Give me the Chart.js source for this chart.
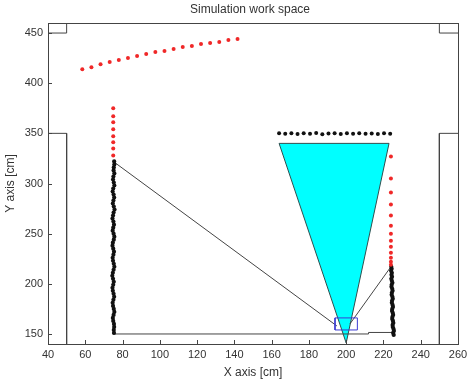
<!DOCTYPE html>
<html>
<head>
<meta charset="utf-8">
<script src="https://cdn.jsdelivr.net/npm/chart.js@4.4.1/dist/chart.umd.min.js"></script>
<style>
  body { margin: 0; background: #fff; }
  #wrap { width: 474px; height: 382px; }
</style>
</head>
<body>
<div id="wrap"><canvas id="chart" width="474" height="382"></canvas></div>
<script>
// axis ticks
const xTicks = [40, 60, 80, 100, 120, 140, 160, 180, 200, 220, 240, 260];
const yTicks = [150, 200, 250, 300, 350, 400, 450];

// room walls (polylines)
const wallLeftX = [40, 50, 50];
const wallLeftY = [350, 350, 140];
const wallRightX = [260, 250, 250];
const wallRightY = [350, 350, 140];
const cornerLeftX = [40, 50, 50];
const cornerLeftY = [450, 450, 460];
const cornerRightX = [260, 250, 250];
const cornerRightY = [450, 450, 460];

// camera field of view (cyan)
const fovX = [164, 223, 200, 164];
const fovY = [340, 340, 141, 340];

// camera box (blue)
const camX = [194, 206, 206, 194, 194];
const camY = [154, 154, 166, 166, 154];

// thin lines
const rayLeftX = [75, 195];
const rayLeftY = [322, 158];
const rayRightX = [224, 202];
const rayRightY = [217, 160];
const floorX = [75, 212, 212, 225];
const floorY = [150, 150, 151.5, 151.5];

// red predicted dots
const redArcX = [58.4, 63.3, 68.2, 73.1, 78.0, 82.9, 87.8, 92.7, 97.6, 102.5, 107.4, 112.3, 117.2, 122.1, 127.0, 131.9, 136.8, 141.7];
const redArcY = [414, 416, 419, 421, 423, 425, 427, 429, 431, 432, 434, 436, 437, 439, 440, 441, 443, 444];
const redLeftX = [75, 75, 75, 75, 75, 75, 75, 75];
const redLeftY = [375, 367, 361, 354, 347, 341, 335, 328];
const redRightX = [224, 224, 224, 224, 224, 224, 224, 224, 224, 224, 224, 224, 224];
const redRightY = [327, 305, 291, 279, 268, 258, 250, 243, 237, 231, 226, 222, 219];

// black measured dots
const topDotsX = [164.0, 167.3, 170.6, 173.9, 177.2, 180.6, 183.9, 187.2, 190.5, 193.8, 197.1, 200.4, 203.7, 207.0, 210.4, 213.7, 217.0, 220.3, 223.6];
const topDotsY = [350, 349.5, 350.2, 349.3, 350, 349.6, 350.3, 349.2, 349.8, 350.1, 349.4, 350, 349.7, 350.2, 349.5, 349.9, 349.3, 350, 349.6];
const leftTrackY = [322, 319, 316, 313, 310, 307, 304, 301, 298, 295, 292, 289, 286, 283, 280, 277, 274, 271, 268, 265,
  262, 259, 256, 253, 250, 247, 244, 241, 238, 235, 232, 229, 226, 223, 220, 217, 214, 211, 208, 205,
  202, 199, 196, 193, 190, 187, 184, 181, 178, 175, 172, 169, 166, 163, 160, 157, 154, 151];
const leftTrackX = [75.5, 75.6, 75.3, 75.2, 75.6, 75.1, 74.9, 75.3, 75.6, 75.0, 74.7, 75.2, 75.5, 75.1, 74.8, 75.3, 75.7, 75.2, 74.9, 74.6,
  75.1, 75.4, 75.0, 74.7, 75.2, 75.6, 75.3, 74.8, 74.6, 75.0, 75.4, 75.1, 74.7, 74.9, 75.3, 75.6, 75.2, 74.8, 74.5, 74.9,
  75.3, 75.0, 74.6, 74.8, 75.2, 75.5, 75.1, 74.7, 74.9, 75.3, 75.6, 75.2, 74.8, 75.0, 75.4, 75.5, 75.3, 75.4];
const rightTrackY = [217, 215, 213, 211, 209, 207, 205, 203, 201, 199, 197, 195, 193, 191, 189, 187, 185, 183, 181, 179,
  177, 175, 173, 171, 169, 167, 165, 163, 161, 159, 157, 155, 153, 151, 149];
const rightTrackX = [224.2, 224.4, 224.1, 224.5, 224.3, 224.6, 224.2, 224.5, 224.8, 224.4, 224.3, 224.7, 224.9, 224.5, 224.4, 224.8, 225.0, 224.6, 224.5, 224.9,
  225.1, 224.7, 224.6, 225.0, 225.2, 224.8, 224.7, 225.1, 225.3, 224.9, 225.0, 225.4, 225.6, 225.2, 225.5];

const chartTitle = 'Simulation work space';

function pts(xs, ys) {
  return xs.map((x, i) => ({ x: x, y: ys[i] }));
}

function lineSet(xs, ys, color, width) {
  return { data: pts(xs, ys), showLine: true, borderColor: color, borderWidth: width || 1, pointRadius: 0, fill: false };
}

function dotSet(xs, ys, color, r) {
  return { data: pts(xs, ys), showLine: false, backgroundColor: color, borderWidth: 0, pointRadius: r, pointStyle: 'circle' };
}

// frame + inward ticks + title, MATLAB style
const framePlugin = {
  id: 'frame',
  afterDraw(chart) {
    const { ctx, chartArea: a, scales } = chart;
    ctx.save();
    ctx.strokeStyle = '#444';
    ctx.lineWidth = 1;
    ctx.strokeRect(Math.round(a.left) + 0.5, Math.round(a.top) + 0.5, Math.round(a.right - a.left), Math.round(a.bottom - a.top));
    ctx.beginPath();
    xTicks.forEach(v => {
      const px = Math.round(scales.x.getPixelForValue(v)) + 0.5;
      ctx.moveTo(px, a.bottom);
      ctx.lineTo(px, a.bottom - 4);
    });
    yTicks.forEach(v => {
      const py = Math.round(scales.y.getPixelForValue(v)) + 0.5;
      ctx.moveTo(a.left, py);
      ctx.lineTo(a.left + 4, py);
    });
    ctx.stroke();

    ctx.fillStyle = '#333';
    ctx.font = '12px "Liberation Sans", Arial, sans-serif';
    ctx.textAlign = 'center';
    ctx.textBaseline = 'middle';
    ctx.fillText(chartTitle, (a.left + a.right) / 2 - 3, 10);
    ctx.restore();
  }
};

const tickFont = { family: 'Liberation Sans, Arial, sans-serif', size: 11 };
const titleFont = { family: 'Liberation Sans, Arial, sans-serif', size: 12 };

new Chart(document.getElementById('chart'), {
  type: 'scatter',
  data: {
    datasets: [
      lineSet(camX, camY, '#3c3cd2', 1),
      dotSet(redArcX, redArcY, '#f02828', 2),
      dotSet(redLeftX, redLeftY, '#f02828', 2),
      dotSet(redRightX, redRightY, '#f02828', 2),
      dotSet(topDotsX, topDotsY, '#111', 2),
      dotSet(leftTrackX, leftTrackY, '#111', 2.1),
      dotSet(rightTrackX, rightTrackY, '#111', 2.1),
      lineSet(rayLeftX, rayLeftY, '#444', 1),
      lineSet(rayRightX, rayRightY, '#444', 1),
      lineSet(floorX, floorY, '#444', 1),
      { data: pts(fovX, fovY), showLine: true, borderColor: '#2f4f4f', borderWidth: 1, pointRadius: 0, fill: 'shape', backgroundColor: '#00ffff' },
      lineSet(wallLeftX, wallLeftY, '#444', 1),
      lineSet(wallRightX, wallRightY, '#444', 1),
      lineSet(cornerLeftX, cornerLeftY, '#444', 1),
      lineSet(cornerRightX, cornerRightY, '#444', 1)
    ]
  },
  options: {
    responsive: false,
    animation: false,
    layout: { padding: { top: 23, right: 16 } },
    plugins: {
      legend: { display: false },
      tooltip: { enabled: false },
      title: { display: false }
    },
    scales: {
      x: {
        type: 'linear',
        min: 40,
        max: 260,
        grid: { display: false, drawTicks: false, tickLength: 0 },
        border: { display: false },
        ticks: { stepSize: 20, color: '#333', font: tickFont, padding: 4, maxRotation: 0 },
        afterBuildTicks: s => { s.ticks = xTicks.map(v => ({ value: v })); },
        title: { display: true, text: 'X axis [cm]', color: '#333', font: titleFont, padding: { top: 0, bottom: 2 } },
        afterFit: s => { s.height = 38; }
      },
      y: {
        type: 'linear',
        min: 140,
        max: 460,
        grid: { display: false, drawTicks: false, tickLength: 0 },
        border: { display: false },
        ticks: { color: '#333', font: tickFont, padding: 5 },
        afterBuildTicks: s => { s.ticks = yTicks.map(v => ({ value: v })); },
        title: { display: true, text: 'Y axis [cm]', color: '#333', font: titleFont, padding: { top: 3, bottom: 0 } },
        afterFit: s => { s.width = 48; }
      }
    }
  },
  plugins: [framePlugin]
});
</script>
</body>
</html>
